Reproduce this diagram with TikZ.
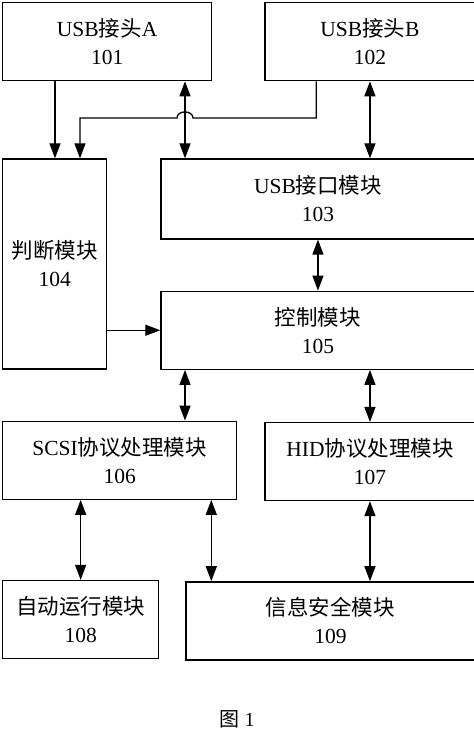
\documentclass[tikz,border=0pt]{standalone}
\usepackage{fontspec}
\setmainfont{Liberation Serif}
\newfontfamily\cjk{Noto Sans CJK SC}
\usetikzlibrary{arrows.meta, positioning}
\tikzstyle{module} = [rectangle, minimum height=78pt, inner sep=0pt, align=center, draw=black, line width=1.3pt, font=\fontsize{21.5}{28}\selectfont]
\tikzstyle{arrow} = [line width=1.3pt, -{Triangle[length=15pt,width=11pt]}]
\tikzstyle{biarrow} = [line width=1.3pt, {Triangle[length=15pt,width=11pt]}-{Triangle[length=15pt,width=11pt]}]

\begin{document}
\begin{tikzpicture}[x=1pt, y=-1pt]
    \useasboundingbox (0,0) rectangle (474,732);
    \node (usb_a) [module, minimum width=209pt, anchor=north west] at (2,2) {USB{\cjk 接头}A\\101};
    \node (usb_b) [module, minimum width=210pt, right=52pt of usb_a.north east, anchor=north west] {USB{\cjk 接头}B\\102};
    \node (judge) [module, minimum width=104pt, minimum height=210pt, below=77pt of usb_a.south west, anchor=north west] {{\cjk 判断模块}\\104};
    \node (usb_if) [module, minimum width=314pt, minimum height=80pt, right=53pt of judge.north east, anchor=north west] {USB{\cjk 接口模块}\\103};
    \node (control) [module, minimum width=314pt, below=51pt of usb_if.south west, anchor=north west] {{\cjk 控制模块}\\105};
    \node (scsi) [module, minimum width=234pt, below=51pt of judge.south west, anchor=north west] {SCSI{\cjk 协议处理模块}\\106};
    \node (hid) [module, minimum width=210pt, below=52pt of control.south east, anchor=north east] {HID{\cjk 协议处理模块}\\107};
    \node (autorun) [module, minimum width=156pt, below=80pt of scsi.south west, anchor=north west] {{\cjk 自动运行模块}\\108};
    \node (security) [module, minimum width=289pt, below=80pt of hid.south east, anchor=north east] {{\cjk 信息安全模块}\\109};
    \node (caption) [inner sep=0pt, font=\fontsize{20}{24}\selectfont] at (237,719) {{\cjk 图} 1};

    \coordinate (hop) at (185,118);
    \draw [arrow] ([xshift=53pt]usb_a.south west) -- ([xshift=53pt]usb_a.south west |- judge.north);
    \draw [arrow] ([xshift=52pt]usb_b.south west) |- ([xshift=8pt]hop) to[out=90, in=90, looseness=1.3] ([xshift=-8pt]hop) -| ([xshift=78pt]judge.north west);
    \draw [biarrow] (hop |- usb_a.south) -- (hop |- usb_if.north);
    \draw [biarrow] (usb_b.south) -- (usb_b.south |- usb_if.north);
    \draw [biarrow] (usb_if.south) -- (control.north);
    \draw [arrow] (judge.east |- control.west) -- (control.west);
    \draw [biarrow] (hop |- control.south) -- (hop |- scsi.north);
    \draw [biarrow] (hid.north |- control.south) -- (hid.north);
    \draw [biarrow] (autorun.north |- scsi.south) -- (autorun.north);
    \draw [biarrow] ([xshift=26pt]security.north west |- scsi.south) -- ([xshift=26pt]security.north west);
    \draw [biarrow] (hid.south) -- (hid.south |- security.north);
\end{tikzpicture}
\end{document}
